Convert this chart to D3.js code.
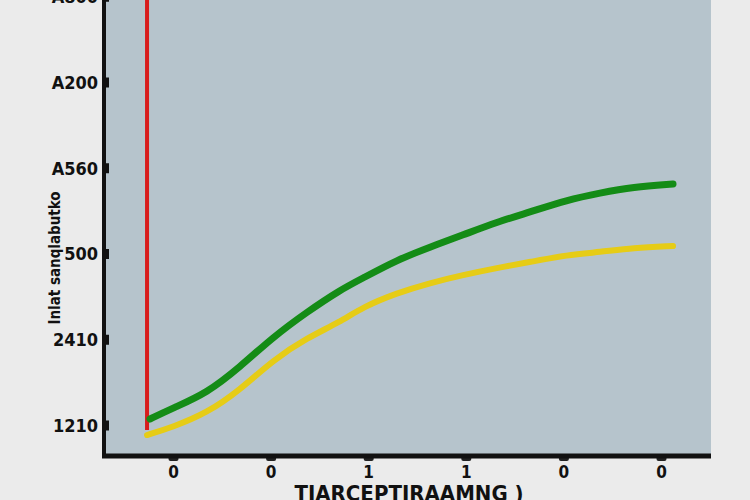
<!DOCTYPE html>
<html>
<head>
<meta charset="utf-8">
<script src="https://cdn.jsdelivr.net/npm/d3@7"></script>
<style>
  html, body { margin: 0; padding: 0; background: #ebebeb; }
  svg { display: block; }
  .lbl { font-family: "Liberation Sans Narrow", "DejaVu Sans Condensed", "Liberation Sans", sans-serif; font-weight: bold; fill: #111; }
</style>
</head>
<body>
<svg id="chart" width="750" height="500"></svg>
<script>
// ---- data ----
const xTickValues = [0, 1, 2, 3, 4, 5];
const xTickLabels = ["0", "0", "1", "1", "0", "0"];
const yTickValues = [0, 1, 2, 3, 4, 5];
const yTickLabels = ["1210", "2410", "500", "A560", "A200", "A800"];

const greenX = [-0.236, 0, 0.348, 0.686, 1.025, 1.373, 1.711, 1.947, 2.295, 2.633, 2.971, 3.320, 3.658, 4.037, 4.375, 4.713, 5.123];
const greenY = [0.07, 0.198, 0.373, 0.676, 1.026, 1.318, 1.574, 1.714, 1.924, 2.076, 2.216, 2.367, 2.484, 2.624, 2.706, 2.776, 2.810];

const yellowX = [-0.266, 0, 0.348, 0.686, 1.025, 1.373, 1.711, 1.947, 2.295, 2.633, 2.971, 3.320, 3.658, 4.037, 4.375, 4.713, 5.123];
const yellowY = [-0.117, -0.023, 0.140, 0.408, 0.758, 1.015, 1.201, 1.376, 1.539, 1.656, 1.749, 1.831, 1.901, 1.983, 2.017, 2.064, 2.087];

const redX = [-0.266, -0.266];
const redY = [-0.058, 4.96];

const xTitle = "TIARCEPTIRAAMNG )";
const yTitle = "Inlat sanqlabutko";

// ---- layout ----
const svg = d3.select("#chart");
const plot = { left: 105, right: 711, top: -10, bottom: 456 };

const x = d3.scaleLinear().domain([0, 5]).range([173, 661]);
const y = d3.scaleLinear().domain([0, 4]).range([425, 82]);

// plot background
svg.append("rect")
  .attr("x", plot.left).attr("y", plot.top)
  .attr("width", plot.right - plot.left).attr("height", plot.bottom - plot.top)
  .attr("fill", "#b6c4cc");

// lines
const line = d3.line().x(d => x(d[0])).y(d => y(d[1])).curve(d3.curveBasis);

svg.append("path")
  .datum(redX.map((v, i) => [v, redY[i]]))
  .attr("d", d3.line().x(d => x(d[0])).y(d => y(d[1])))
  .attr("stroke", "#d81c1c").attr("stroke-width", 4).attr("fill", "none");

svg.append("path")
  .datum(yellowX.map((v, i) => [v, yellowY[i]]))
  .attr("d", line)
  .attr("stroke", "#e6cc16").attr("stroke-width", 6).attr("fill", "none")
  .attr("stroke-linecap", "round");

svg.append("path")
  .datum(greenX.map((v, i) => [v, greenY[i]]))
  .attr("d", line)
  .attr("stroke", "#148c16").attr("stroke-width", 7).attr("fill", "none")
  .attr("stroke-linecap", "round");

// y axis
const yAxis = d3.axisLeft(y)
  .tickValues(yTickValues)
  .tickFormat((d, i) => yTickLabels[i])
  .tickSize(0).tickPadding(6);
const gy = svg.append("g").attr("transform", `translate(${plot.left - 1},0)`).call(yAxis);
gy.select(".domain").remove();
gy.selectAll("text").attr("class", "lbl").style("font-size", "18px").attr("dy", "0.35em");
gy.selectAll(".tick").append("rect")
  .attr("x", 0).attr("y", -5).attr("width", 5).attr("height", 10).attr("fill", "#111");
svg.append("line")
  .attr("x1", plot.left - 1).attr("x2", plot.left - 1)
  .attr("y1", -5).attr("y2", plot.bottom + 2)
  .attr("stroke", "#111").attr("stroke-width", 4);

// x axis
const xAxis = d3.axisBottom(x)
  .tickValues(xTickValues)
  .tickFormat((d, i) => xTickLabels[i])
  .tickSize(0).tickPadding(10);
const gx = svg.append("g").attr("transform", `translate(0,${plot.bottom})`).call(xAxis);
gx.select(".domain").remove();
gx.selectAll("text").attr("class", "lbl").style("font-size", "17px");
gx.selectAll(".tick").append("rect")
  .attr("x", -5).attr("y", 0).attr("width", 10).attr("height", 5).attr("rx", 2).attr("fill", "#222");
svg.append("line")
  .attr("x1", plot.left - 3).attr("x2", plot.right)
  .attr("y1", plot.bottom).attr("y2", plot.bottom)
  .attr("stroke", "#111").attr("stroke-width", 5);

// titles
svg.append("text").attr("class", "lbl")
  .attr("x", 409).attr("y", 501)
  .attr("text-anchor", "middle")
  .style("font-size", "22px")
  .text(xTitle);

svg.append("text").attr("class", "lbl")
  .attr("transform", "translate(60,258) rotate(-90)")
  .attr("text-anchor", "middle")
  .style("font-size", "15px")
  .text(yTitle);
</script>
</body>
</html>
